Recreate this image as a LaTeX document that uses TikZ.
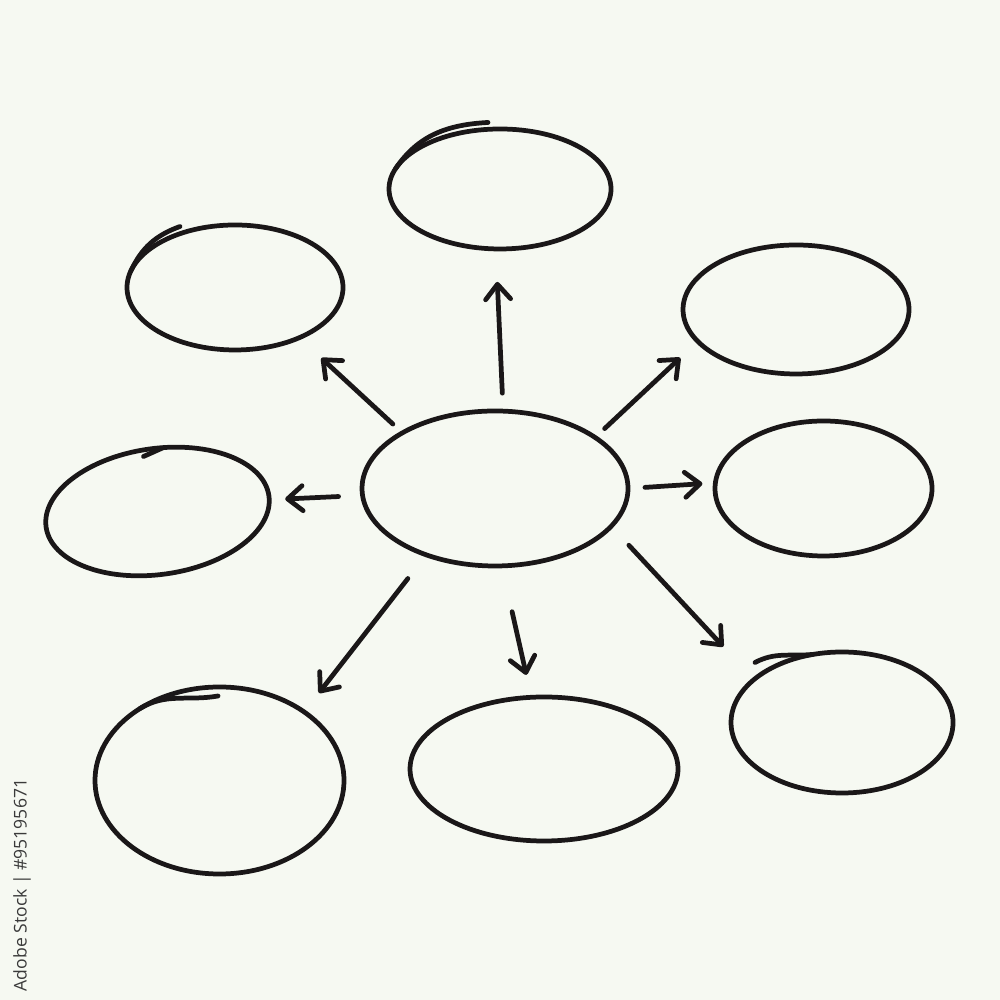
\documentclass[tikz,border=0pt]{standalone}
\usepackage{fontspec}
\usepackage{tikz}
\usetikzlibrary{arrows.meta, positioning, shapes.geometric}

\newfontfamily\stockfont{Open Sans}
\definecolor{ink}{RGB}{26,23,24}
\definecolor{paper}{RGB}{246,249,242}
\definecolor{stampgray}{RGB}{58,58,58}

\tikzset{
    pen/.style = {draw=ink, line width=1.35pt, line cap=round, line join=round},
    bubble/.style = {pen, ellipse, inner sep=0pt, outer sep=0pt},
    link/.style = {pen, -{Straight Barb[length=1.5mm, width=2.5mm, round]}}
}

\begin{document}
\begin{tikzpicture}

            \fill[paper] (0,0) rectangle (10,10);

            % centre and the eight bubbles round it
            \node[bubble, minimum width=2.66cm, minimum height=1.55cm] (hub) at (4.95,5.115) {};

            \foreach \name/\x/\y/\w/\h in {top/5.00/8.11/2.22/1.20, upleft/2.35/7.125/2.16/1.25,
                upright/7.96/6.905/2.26/1.29, midright/8.235/5.115/2.17/1.35,
                lowleft/2.195/2.195/2.49/1.87, lowmid/5.44/2.31/2.68/1.44, lowright/8.42/2.775/2.22/1.41}
            \node[bubble, minimum width=\w cm, minimum height=\h cm] (\name) at (\x,\y) {};

            \node[bubble, minimum width=2.25cm, minimum height=1.26cm, rotate=8] (midleft) at (1.575,4.885) {};

            % pen overlaps where a loop was closed
            \draw[pen, shift={(top.center)}] (160:1.11 and 0.60) to[out=56, in=183] (-0.12,0.665);
            \draw[pen, shift={(upleft.center)}] (165:1.08 and 0.625) to[out=65, in=200] (-0.55,0.61);
            \draw[pen, shift={(lowleft.center)}] (130:1.245 and 0.935) to[out=32, in=190] (-0.015,0.845);
            \draw[pen, shift={(midleft.center)}] (-0.14,0.55) -- (0.05,0.635);
            \draw[pen, shift={(lowright.center)}] (-0.87,0.60) to[out=28, in=185] (-0.30,0.68);

            % arrows out of the centre
            \draw[link, shorten <=0.18cm, shorten >=0.33cm] (hub.84) -- (top.266);
            \draw[link, shorten <=0.13cm, shorten >=0.30cm] (hub.149) -- (upleft.322);
            \draw[link, shorten <=0.13cm, shorten >=0.24cm] (hub.27) -- (upright.198);
            \draw[link, shorten <=0.24cm, shorten >=0.16cm] (hub.183) -- (midleft.358);
            \draw[link, shorten <=0.17cm, shorten >=0.13cm] (hub.0) -- (midright.177);
            \draw[link, shorten <=0.26cm, shorten >=0.45cm] (hub.342) -- (lowright.154);
            \draw[link, shorten <=0.47cm, shorten >=0.23cm] (hub.275) -- (lowmid.100);
            \draw[link, shorten <=0.30cm, shorten >=0.24cm] (hub.224) -- (lowleft.39);

            \node[rotate=90, text=stampgray, font=\stockfont\fontsize{5}{6}\selectfont, inner sep=0pt] (stamp) at (0.22,1.15) {Adobe Stock | \#95195671};

\end{tikzpicture}
\end{document}
